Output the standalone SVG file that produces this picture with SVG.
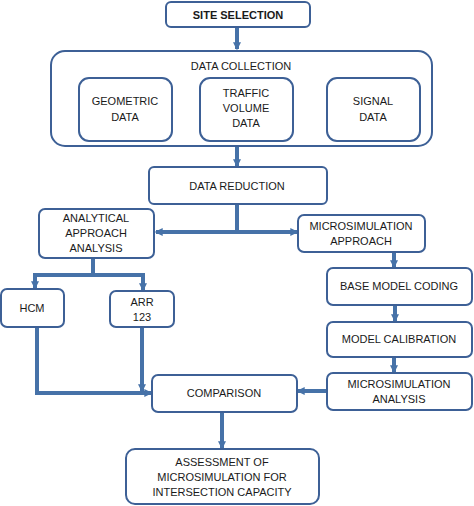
<svg xmlns="http://www.w3.org/2000/svg" width="474" height="506" viewBox="0 0 474 506">
<style>
.box{fill:#fff;stroke:#3d6096;stroke-width:2}
.t{font-family:"Liberation Sans",Arial,sans-serif;font-size:11px;fill:#1a1a1a;text-anchor:middle}
.c{fill:none;stroke:#4672a8;stroke-width:4}
</style>
<defs>
<marker id="ah" viewBox="0 0 6 6" refX="5" refY="3" markerWidth="2" markerHeight="2" orient="auto" markerUnits="strokeWidth">
<path d="M0,0 L6,3 L0,6 Z" fill="#4672a8"/>
</marker>
</defs>
<rect width="474" height="506" fill="#fff"/>
<g id="connectors">
<line class="c" x1="237" y1="28" x2="237" y2="49" marker-end="url(#ah)"/>
<line class="c" x1="237" y1="147" x2="237" y2="166" marker-end="url(#ah)"/>
<line class="c" x1="237" y1="205" x2="237" y2="232"/>
<line class="c" x1="237" y1="232" x2="156" y2="232" marker-end="url(#ah)"/>
<line class="c" x1="237" y1="232" x2="297" y2="232" marker-end="url(#ah)"/>
<polyline class="c" points="93,259 93,275 35,275 35,288" marker-end="url(#ah)"/>
<polyline class="c" points="93,275 143,275 143,290" marker-end="url(#ah)"/>
<line class="c" x1="394" y1="253" x2="394" y2="267" marker-end="url(#ah)"/>
<line class="c" x1="395" y1="306" x2="395" y2="321" marker-end="url(#ah)"/>
<line class="c" x1="394" y1="358" x2="394" y2="372" marker-end="url(#ah)"/>
<polyline class="c" points="37,328 37,393 151,393" marker-end="url(#ah)"/>
<line class="c" x1="142" y1="328" x2="142" y2="391" marker-end="url(#ah)"/>
<line class="c" x1="327" y1="391" x2="298" y2="391" marker-end="url(#ah)"/>
<line class="c" x1="222" y1="413" x2="222" y2="448" marker-end="url(#ah)"/>
</g>
<g id="site-selection">
<rect class="box" x="166" y="2" width="144" height="25" rx="5"/>
<text class="t" x="238" y="19" font-weight="bold" font-size="10">SITE SELECTION</text>
</g>
<g id="data-collection">
<rect class="box" x="51" y="51" width="381" height="95" rx="14"/>
<text class="t" x="241" y="70">DATA COLLECTION</text>
</g>
<g id="geometric-data">
<rect class="box" x="79" y="78" width="93" height="63" rx="10"/>
<text class="t" x="125" y="105">GEOMETRIC</text>
<text class="t" x="125" y="121">DATA</text>
</g>
<g id="traffic-volume-data">
<rect class="box" x="200" y="78" width="93" height="63" rx="10"/>
<text class="t" x="246" y="97">TRAFFIC</text>
<text class="t" x="246" y="112">VOLUME</text>
<text class="t" x="246" y="127">DATA</text>
</g>
<g id="signal-data">
<rect class="box" x="327" y="78" width="93" height="63" rx="10"/>
<text class="t" x="373" y="105">SIGNAL</text>
<text class="t" x="373" y="121">DATA</text>
</g>
<g id="data-reduction">
<rect class="box" x="149" y="167" width="178" height="37" rx="5"/>
<text class="t" x="237" y="190">DATA REDUCTION</text>
</g>
<g id="analytical">
<rect class="box" x="39" y="209" width="115" height="49" rx="6"/>
<text class="t" x="96" y="222">ANALYTICAL</text>
<text class="t" x="96" y="237">APPROACH</text>
<text class="t" x="96" y="252">ANALYSIS</text>
</g>
<g id="microsimulation-approach">
<rect class="box" x="298" y="215" width="127" height="37" rx="6"/>
<text class="t" x="361" y="230">MICROSIMULATION</text>
<text class="t" x="361" y="245">APPROACH</text>
</g>
<g id="hcm">
<rect class="box" x="1" y="289" width="63" height="38" rx="6"/>
<text class="t" x="32" y="312">HCM</text>
</g>
<g id="arr123">
<rect class="box" x="110" y="291" width="64" height="36" rx="6"/>
<text class="t" x="142" y="306">ARR</text>
<text class="t" x="142" y="321">123</text>
</g>
<g id="base-model-coding">
<rect class="box" x="327" y="268" width="145" height="37" rx="6"/>
<text class="t" x="399" y="290">BASE MODEL CODING</text>
</g>
<g id="model-calibration">
<rect class="box" x="327" y="322" width="145" height="35" rx="6"/>
<text class="t" x="399" y="343">MODEL CALIBRATION</text>
</g>
<g id="microsimulation-analysis">
<rect class="box" x="327" y="373" width="145" height="37" rx="6"/>
<text class="t" x="399" y="388">MICROSIMULATION</text>
<text class="t" x="399" y="403">ANALYSIS</text>
</g>
<g id="comparison">
<rect class="box" x="152" y="375" width="145" height="37" rx="6"/>
<text class="t" x="224" y="397">COMPARISON</text>
</g>
<g id="assessment">
<rect class="box" x="126" y="449" width="193" height="55" rx="9"/>
<text class="t" x="222" y="466">ASSESSMENT OF</text>
<text class="t" x="222" y="481">MICROSIMULATION FOR</text>
<text class="t" x="222" y="496">INTERSECTION CAPACITY</text>
</g>
</svg>
